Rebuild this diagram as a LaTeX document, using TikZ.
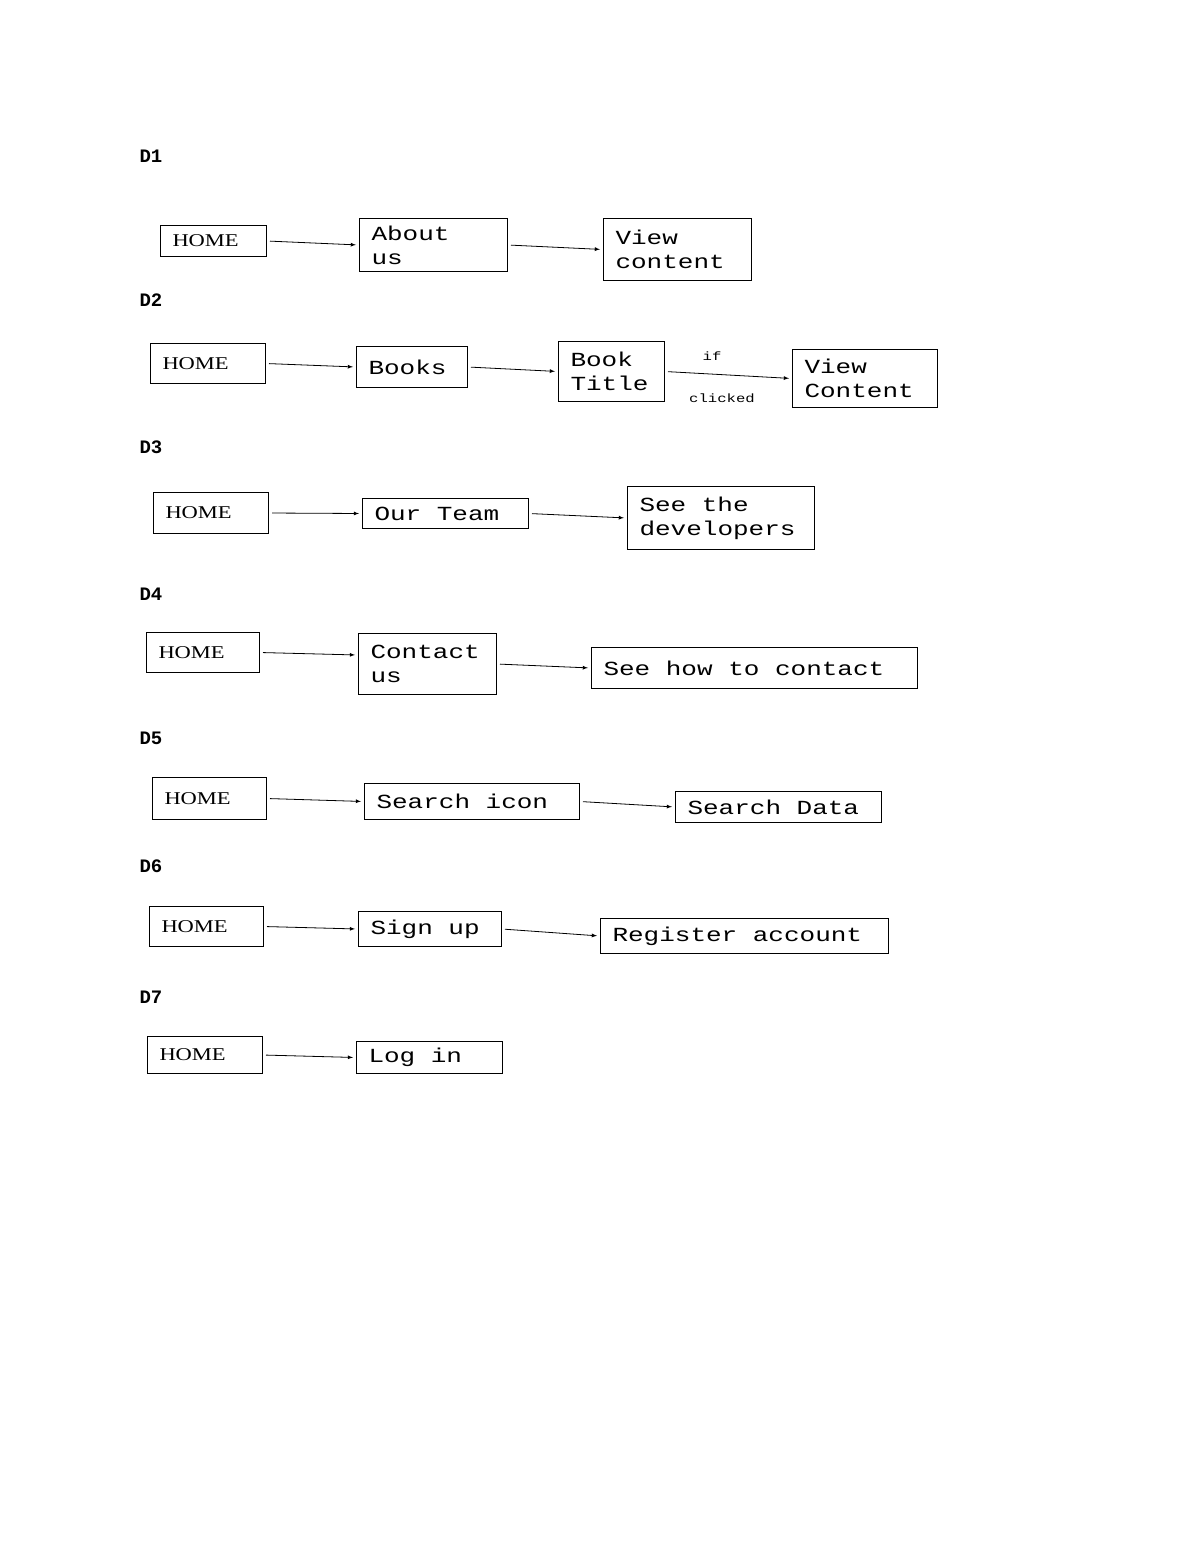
\documentclass[tikz,border=0pt]{standalone}
\usepackage{fontspec}
\setmainfont{Liberation Serif}[FakeStretch=1.25]
\setmonofont{Liberation Mono}[FakeStretch=1.3]
\newfontfamily\labfont{Liberation Mono}
\newcommand{\ws}{\hspace{0.78em}}
\begin{document}
\begin{tikzpicture}[x=1pt,y=-1pt,
  bx/.style={draw,line width=1pt,inner sep=0pt,anchor=north west,font=\ttfamily\fontsize{20}{24}\selectfont,align=left},
  hm/.style={bx,font=\rmfamily\fontsize{18}{21}\selectfont},
  ar/.style={->,>=latex,line width=0.8pt,shorten <=3pt,shorten >=3pt},
  lab/.style={font=\labfont\bfseries\fontsize{19}{21}\selectfont,anchor=west}]
\useasboundingbox (0,0) rectangle (1200,1553);
\newcommand{\bxx}[7]{\node[#1,minimum width=#4-#2,minimum height=#5-#3,text width=#4-#2-24] (#6) at (#2,#3) {#7};}
\node[lab] (l1) at (136,156) {D1};
\node[lab] (l2) at (136,300) {D2};
\node[lab] (l3) at (136,447) {D3};
\node[lab] (l4) at (136,594) {D4};
\node[lab] (l5) at (136,738) {D5};
\node[lab] (l6) at (136,866) {D6};
\node[lab] (l7) at (136,997) {D7};
% D1
\bxx{hm}{160}{225}{266}{256}{a1}{HOME}
\bxx{bx}{359}{218}{507}{271}{b1}{About\\us}
\bxx{bx}{603}{218}{751}{280}{c1}{View\\content}
\draw[ar] (a1.east) -- (b1.west);
\draw[ar] (b1.east) -- (c1.west);
% D2
\bxx{hm}{150}{343}{265}{383}{a2}{HOME}
\bxx{bx}{356}{346}{467}{387}{b2}{Books}
\bxx{bx}{558}{341}{664}{401}{c2}{Book\\Title}
\bxx{bx}{792}{349}{937}{407}{d2}{View\\Content}
\draw[ar] (a2.east) -- (b2.west);
\draw[ar] (b2.east) -- (c2.west);
\draw[ar] (c2.east) -- (d2.west);
\node[font=\ttfamily\fontsize{12}{13}\selectfont] (if) at (712,356) {if};
\node[font=\ttfamily\fontsize{12}{13}\selectfont] (cl) at (722,398) {clicked};
% D3
\bxx{hm}{153}{492}{268}{533}{a3}{HOME}
\bxx{bx}{362}{498}{528}{528}{b3}{Our\ws Team}
\bxx{bx}{627}{486}{814}{549}{c3}{See\ws the\\developers}
\draw[ar] (a3.east) -- (b3.west);
\draw[ar] (b3.east) -- (c3.west);
% D4
\bxx{hm}{146}{632}{259}{672}{a4}{HOME}
\bxx{bx}{358}{633}{496}{694}{b4}{Contact\\us}
\bxx{bx}{591}{647}{917}{688}{c4}{See\ws how\ws to\ws contact}
\coordinate (e4) at ([yshift=9pt]b4.west);
\draw[ar] (a4.east) -- (e4);
\draw[ar] (b4.east) -- (c4.west);
% D5
\bxx{hm}{152}{777}{266}{819}{a5}{HOME}
\bxx{bx}{364}{783}{579}{819}{b5}{Search\ws icon}
\bxx{bx}{675}{791}{881}{822}{c5}{Search\ws Data}
\draw[ar] (a5.east) -- (b5.west);
\draw[ar] (b5.east) -- (c5.west);
% D6
\bxx{hm}{149}{906}{263}{946}{a6}{HOME}
\bxx{bx}{358}{911}{501}{946}{b6}{Sign\ws up}
\bxx{bx}{600}{918}{888}{953}{c6}{Register\ws account}
\draw[ar] (a6.east) -- (b6.west);
\draw[ar] (b6.east) -- (c6.west);
% D7
\bxx{hm}{147}{1036}{262}{1073}{a7}{HOME}
\bxx{bx}{356}{1041}{502}{1073}{b7}{Log\ws in}
\draw[ar] (a7.east) -- (b7.west);
\end{tikzpicture}
\end{document}
